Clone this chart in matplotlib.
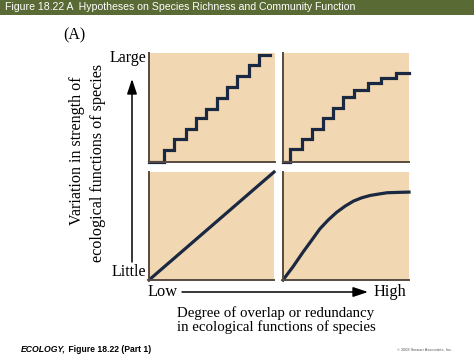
import matplotlib
matplotlib.use("Agg")
import matplotlib.pyplot as plt
from matplotlib.patches import Rectangle, FancyArrowPatch

# ---- data (normalised 0..1 axes) ----
tl_x = [0, 0.12, 0.20, 0.29, 0.37, 0.45, 0.54, 0.62, 0.70, 0.79, 0.87, 0.96]
tl_y = [0, 0.11, 0.21, 0.30, 0.40, 0.49, 0.59, 0.69, 0.79, 0.89, 0.98, 0.98]

tr_x = [0, 0.059, 0.147, 0.232, 0.315, 0.40, 0.48, 0.565, 0.675, 0.781, 0.893, 1.0]
tr_y = [0, 0.116, 0.207, 0.305, 0.40, 0.497, 0.598, 0.665, 0.726, 0.771, 0.817, 0.817]

bl_x = [0, 1.0]
bl_y = [0, 1.0]

br_x = [0, 0.08, 0.16, 0.227, 0.293, 0.36, 0.427, 0.493, 0.56, 0.627, 0.693, 0.76, 0.827, 0.907, 1.0]
br_y = [0, 0.124, 0.26, 0.367, 0.474, 0.557, 0.628, 0.684, 0.731, 0.762, 0.783, 0.796, 0.808, 0.811, 0.814]

title = "Figure 18.22 A  Hypotheses on Species Richness and Community Function"
y_label_1 = "Variation in strength of"
y_label_2 = "ecological functions of species"
x_label = "Degree of overlap or redundancy\nin ecological functions of species"

W, H = 474, 355
fig = plt.figure(figsize=(W / 100, H / 100), dpi=100)
fig.patch.set_facecolor("white")

def fx(x):
    return x / W

def fy(y):
    return 1 - y / H

BG = "#f1d8b2"
LINE = "#1b2842"
SPINE = "#564a40"
SERIF = ["Liberation Serif", "DejaVu Serif"]
SANS = ["Liberation Sans", "DejaVu Sans"]

def make_ax(l, r, t, b):
    ax = fig.add_axes([fx(l), fy(b), fx(r - l), (b - t) / H])
    ax.set_facecolor(BG)
    ax.set_xlim(0, 1)
    ax.set_ylim(0, 1)
    for s in ["top", "right"]:
        ax.spines[s].set_visible(False)
    for s in ["left", "bottom"]:
        ax.spines[s].set_color(SPINE)
        ax.spines[s].set_linewidth(1.4)
    ax.set_xticks([])
    ax.set_yticks([])
    return ax

ax_tl = make_ax(149, 275, 53, 162)
ax_tr = make_ax(283, 409, 53, 162)
ax_bl = make_ax(149, 274, 172, 280)
ax_br = make_ax(283, 409, 172, 280)

lw = 2.3
ax_tl.step(tl_x, tl_y, where="post", color=LINE, lw=lw, clip_on=False, solid_joinstyle="miter")
ax_tr.step(tr_x, tr_y, where="post", color=LINE, lw=lw, clip_on=False, solid_joinstyle="miter")
ax_bl.plot(bl_x, bl_y, color=LINE, lw=lw, clip_on=False)
ax_br.plot(br_x, br_y, color=LINE, lw=lw, clip_on=False)

# title bar
fig.add_artist(Rectangle((0, fy(14.5)), 1, 14.5 / H, transform=fig.transFigure,
                         facecolor="#5a6a35", edgecolor="none"))
fig.text(fx(5), fy(7.5), title, color="white", fontsize=7.6, family=SANS,
         ha="left", va="center")

# (A)
fig.text(fx(63), fy(35), "(A)", fontsize=11.5, family=SERIF, ha="left", va="center")

# y-axis texts
fig.text(fx(146), fy(58), "Large", fontsize=11.5, family=SERIF, ha="right", va="center")
fig.text(fx(146), fy(272), "Little", fontsize=11.5, family=SERIF, ha="right", va="center")
fig.text(fx(77), fy(151), y_label_1, fontsize=11.6, family=SERIF, rotation=90,
         ha="center", va="center")
fig.text(fx(98), fy(163), y_label_2, fontsize=11.6, family=SERIF, rotation=90,
         ha="center", va="center")
arrow_style = "-|>,head_length=9,head_width=3"
fig.add_artist(FancyArrowPatch((fx(132), fy(262)), (fx(132), fy(79)),
                               transform=fig.transFigure, arrowstyle=arrow_style,
                               color="black", lw=1.1, shrinkA=0, shrinkB=0))

# x-axis texts
fig.text(fx(147), fy(292), "Low", fontsize=11.8, family=SERIF, ha="left", va="center")
fig.text(fx(373), fy(292), "High", fontsize=11.8, family=SERIF, ha="left", va="center")
fig.add_artist(FancyArrowPatch((fx(182), fy(292)), (fx(368), fy(292)),
                               transform=fig.transFigure, arrowstyle=arrow_style,
                               color="black", lw=1.1, shrinkA=0, shrinkB=0))
fig.text(fx(276), fy(320), x_label, fontsize=10.7, family=SERIF, ha="center",
         va="center", linespacing=1.05)

# footer
t1 = fig.text(fx(21), fy(349), "ECOLOGY,", fontsize=6.2, family=SANS,
              fontweight="bold", style="italic", ha="left", va="center")
ax_tl.annotate(" Figure 18.22 (Part 1)", xy=(1, 0.5), xycoords=t1, fontsize=6.2,
               family=SANS, fontweight="bold", ha="left", va="center",
               annotation_clip=False)
fig.text(fx(452), fy(350), "\u00a9 2008 Sinauer Associates, Inc.", fontsize=2.8,
         family=SANS, color="#555555", ha="right", va="center")

fig.savefig("out.png", dpi=100)
